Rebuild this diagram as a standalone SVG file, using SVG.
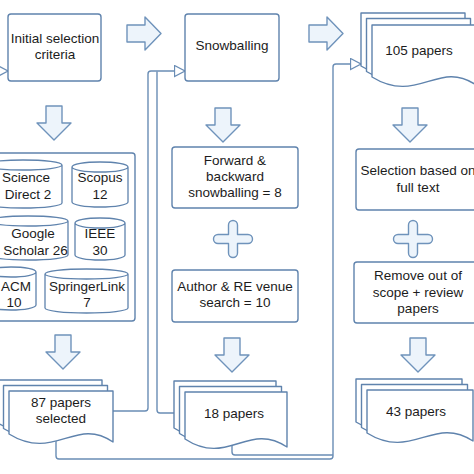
<svg xmlns="http://www.w3.org/2000/svg" width="474" height="474" viewBox="0 0 474 474">
<style>
text{font-family:"Liberation Sans",Arial,sans-serif;font-size:13.5px;fill:#1c1c1c;text-anchor:middle}
.box{fill:#fff;stroke:#5f83ad;stroke-width:1.4}
.doc{fill:#fff;stroke:#5f83ad;stroke-width:1.4;stroke-linejoin:round}
.db{fill:#fff;stroke:#5f83ad;stroke-width:1.3}
.conn{fill:none;stroke:#6a8db5;stroke-width:1.4}
.blk{fill:#edf4fb;stroke:#6f93bb;stroke-width:1.4;stroke-linejoin:round}
</style>
<defs>
<marker id="hol" markerUnits="userSpaceOnUse" markerWidth="13" markerHeight="13" refX="10.5" refY="6" orient="auto" viewBox="-1 0 13 12">
<path d="M0,0.5 L10.5,6 L0,11.5 Z" fill="#fff" stroke="#6a8db5" stroke-width="1.3"/>
</marker>
<path id="rarr" d="M0,-8.5 H18 V-16.5 L34,0 L18,16.5 V8.5 H0 Z"/>
<path id="darr" d="M-8,0 V17 H-17 L0,34 L17,17 H8 V0 Z"/>
<path id="plus" d="M-4.5,-14 A4.5,4.5 0 0 1 4.5,-14 V-4.5 H15 A4.5,4.5 0 0 1 15,4.5 H4.5 V14 A4.5,4.5 0 0 1 -4.5,14 V4.5 H-15 A4.5,4.5 0 0 1 -15,-4.5 H-4.5 Z"/>
</defs>

<g id="connectors">
<path class="conn" d="M-12,71 H8" marker-end="url(#hol)"/>
<path class="conn" d="M113,411 H145 Q148,411 148,408 V74 Q148,71 151,71 H185" marker-end="url(#hol)"/>
<path class="conn" d="M174,413 H160 Q157,413 157,410 V71.5"/>
<path class="conn" d="M56,440 V456 Q56,459 59,459 H330 Q333,459 333,456 V67 Q333,64 336,64 H361" marker-end="url(#hol)"/>
<path class="conn" d="M232,444 V452 Q232,455 235,455 H333"/>
<use href="#rarr" class="blk" x="127" y="33.5"/>
<use href="#rarr" class="blk" x="309" y="33.5"/>
<use href="#darr" class="blk" x="54" y="106"/>
<use href="#darr" class="blk" x="223" y="108"/>
<use href="#darr" class="blk" x="410" y="108"/>
<use href="#darr" class="blk" x="63" y="335"/>
<use href="#darr" class="blk" x="232" y="338"/>
<use href="#darr" class="blk" x="418" y="338"/>
<use href="#plus" class="blk" x="233" y="239"/>
<use href="#plus" class="blk" x="413" y="239"/>
</g>

<g id="initial">
<rect class="box" x="8" y="14" width="93" height="67" rx="3"/>
<text x="55" y="43">Initial selection</text>
<text x="55" y="59">criteria</text>
</g>

<g id="snowballing">
<rect class="box" x="185" y="14" width="94" height="67" rx="3"/>
<text x="232" y="50">Snowballing</text>
</g>

<g id="p105">
<path class="doc" d="M361,66 V13 H465 V74 C427.6,48 406.6,94 361,66 Z"/>
<path class="doc" d="M366.5,71.5 V18.5 H470.5 V79.5 C433.1,53.5 412.1,99.5 366.5,71.5 Z"/>
<path class="doc" d="M372,77 V25 H476 V85 C438.6,59 417.6,105 372,77 Z"/>
<text x="419" y="55">105 papers</text>
</g>

<g id="databases">
<rect class="box" x="-8" y="153" width="143" height="168" rx="3"/>
<g id="db-sciencedirect">
<path class="db" d="M-16,165 A39,5 0 0 1 62,165 V203 A39,5 0 0 1 -16,203 Z M-16,165 A39,5 0 0 0 62,165"/>
<text x="26" y="182">Science</text>
<text x="28" y="199">Direct 2</text>
</g>
<g id="db-scopus">
<path class="db" d="M72,167 A28,5 0 0 1 128,167 V202 A28,5 0 0 1 72,202 Z M72,167 A28,5 0 0 0 128,167"/>
<text x="100" y="182">Scopus</text>
<text x="100" y="199">12</text>
</g>
<g id="db-google">
<path class="db" d="M-12,221 A40,5 0 0 1 68,221 V255 A40,5 0 0 1 -12,255 Z M-12,221 A40,5 0 0 0 68,221"/>
<text x="33" y="238">Google</text>
<text x="35.5" y="255">Scholar 26</text>
</g>
<g id="db-ieee">
<path class="db" d="M75,223 A25,5 0 0 1 125,223 V255 A25,5 0 0 1 75,255 Z M75,223 A25,5 0 0 0 125,223"/>
<text x="100" y="238">IEEE</text>
<text x="100" y="255">30</text>
</g>
<g id="db-acm">
<path class="db" d="M-14,272 A25,5 0 0 1 36,272 V305 A25,5 0 0 1 -14,305 Z M-14,272 A25,5 0 0 0 36,272"/>
<text x="16" y="291">ACM</text>
<text x="14" y="307">10</text>
</g>
<g id="db-springer">
<path class="db" d="M45,274 A41.5,5 0 0 1 128,274 V308 A41.5,5 0 0 1 45,308 Z M45,274 A41.5,5 0 0 0 128,274"/>
<text x="87" y="291">SpringerLink</text>
<text x="87" y="307">7</text>
</g>
</g>

<g id="forward">
<rect class="box" x="172" y="147" width="126" height="61" rx="3"/>
<text x="235" y="165">Forward &amp;</text>
<text x="235" y="181">backward</text>
<text x="235" y="197">snowballing = 8</text>
</g>

<g id="author">
<rect class="box" x="172" y="270" width="126" height="52" rx="3"/>
<text x="235" y="291">Author &amp; RE venue</text>
<text x="235" y="307">search = 10</text>
</g>

<g id="selection">
<rect class="box" x="356" y="149" width="124" height="61" rx="3"/>
<text x="418" y="175">Selection based on</text>
<text x="418" y="192">full text</text>
</g>

<g id="remove">
<rect class="box" x="354" y="262" width="126" height="61" rx="3"/>
<text x="418" y="280">Remove out of</text>
<text x="418" y="297">scope + review</text>
<text x="418" y="313">papers</text>
</g>

<g id="p87">
<path class="doc" d="M-2,423 V380 H102 V431 C64.6,405 43.6,451 -2,423 Z"/>
<path class="doc" d="M3.5,428.5 V385.5 H107.5 V436.5 C70.1,410.5 49.1,456.5 3.5,428.5 Z"/>
<path class="doc" d="M9,434 V391 H113 V442 C75.6,416 54.6,462 9,434 Z"/>
<text x="61" y="407">87 papers</text>
<text x="61" y="423">selected</text>
</g>

<g id="p18">
<path class="doc" d="M174,428 V381 H276 V436 C237.2,410 216.8,456 174,428 Z"/>
<path class="doc" d="M179.5,433.5 V386.5 H281.5 V441.5 C242.7,415.5 222.3,461.5 179.5,433.5 Z"/>
<path class="doc" d="M185,439 V392 H287 V447 C248.2,421 227.8,467 185,439 Z"/>
<text x="234" y="418">18 papers</text>
</g>

<g id="p43">
<path class="doc" d="M356,422 V379 H462 V430 C422.4,404 401.2,450 356,422 Z"/>
<path class="doc" d="M361.5,427.5 V384.5 H467.5 V435.5 C427.9,409.5 406.7,455.5 361.5,427.5 Z"/>
<path class="doc" d="M367,433 V390 H473 V441 C433.4,415 412.2,461 367,433 Z"/>
<text x="416" y="416">43 papers</text>
</g>
</svg>
